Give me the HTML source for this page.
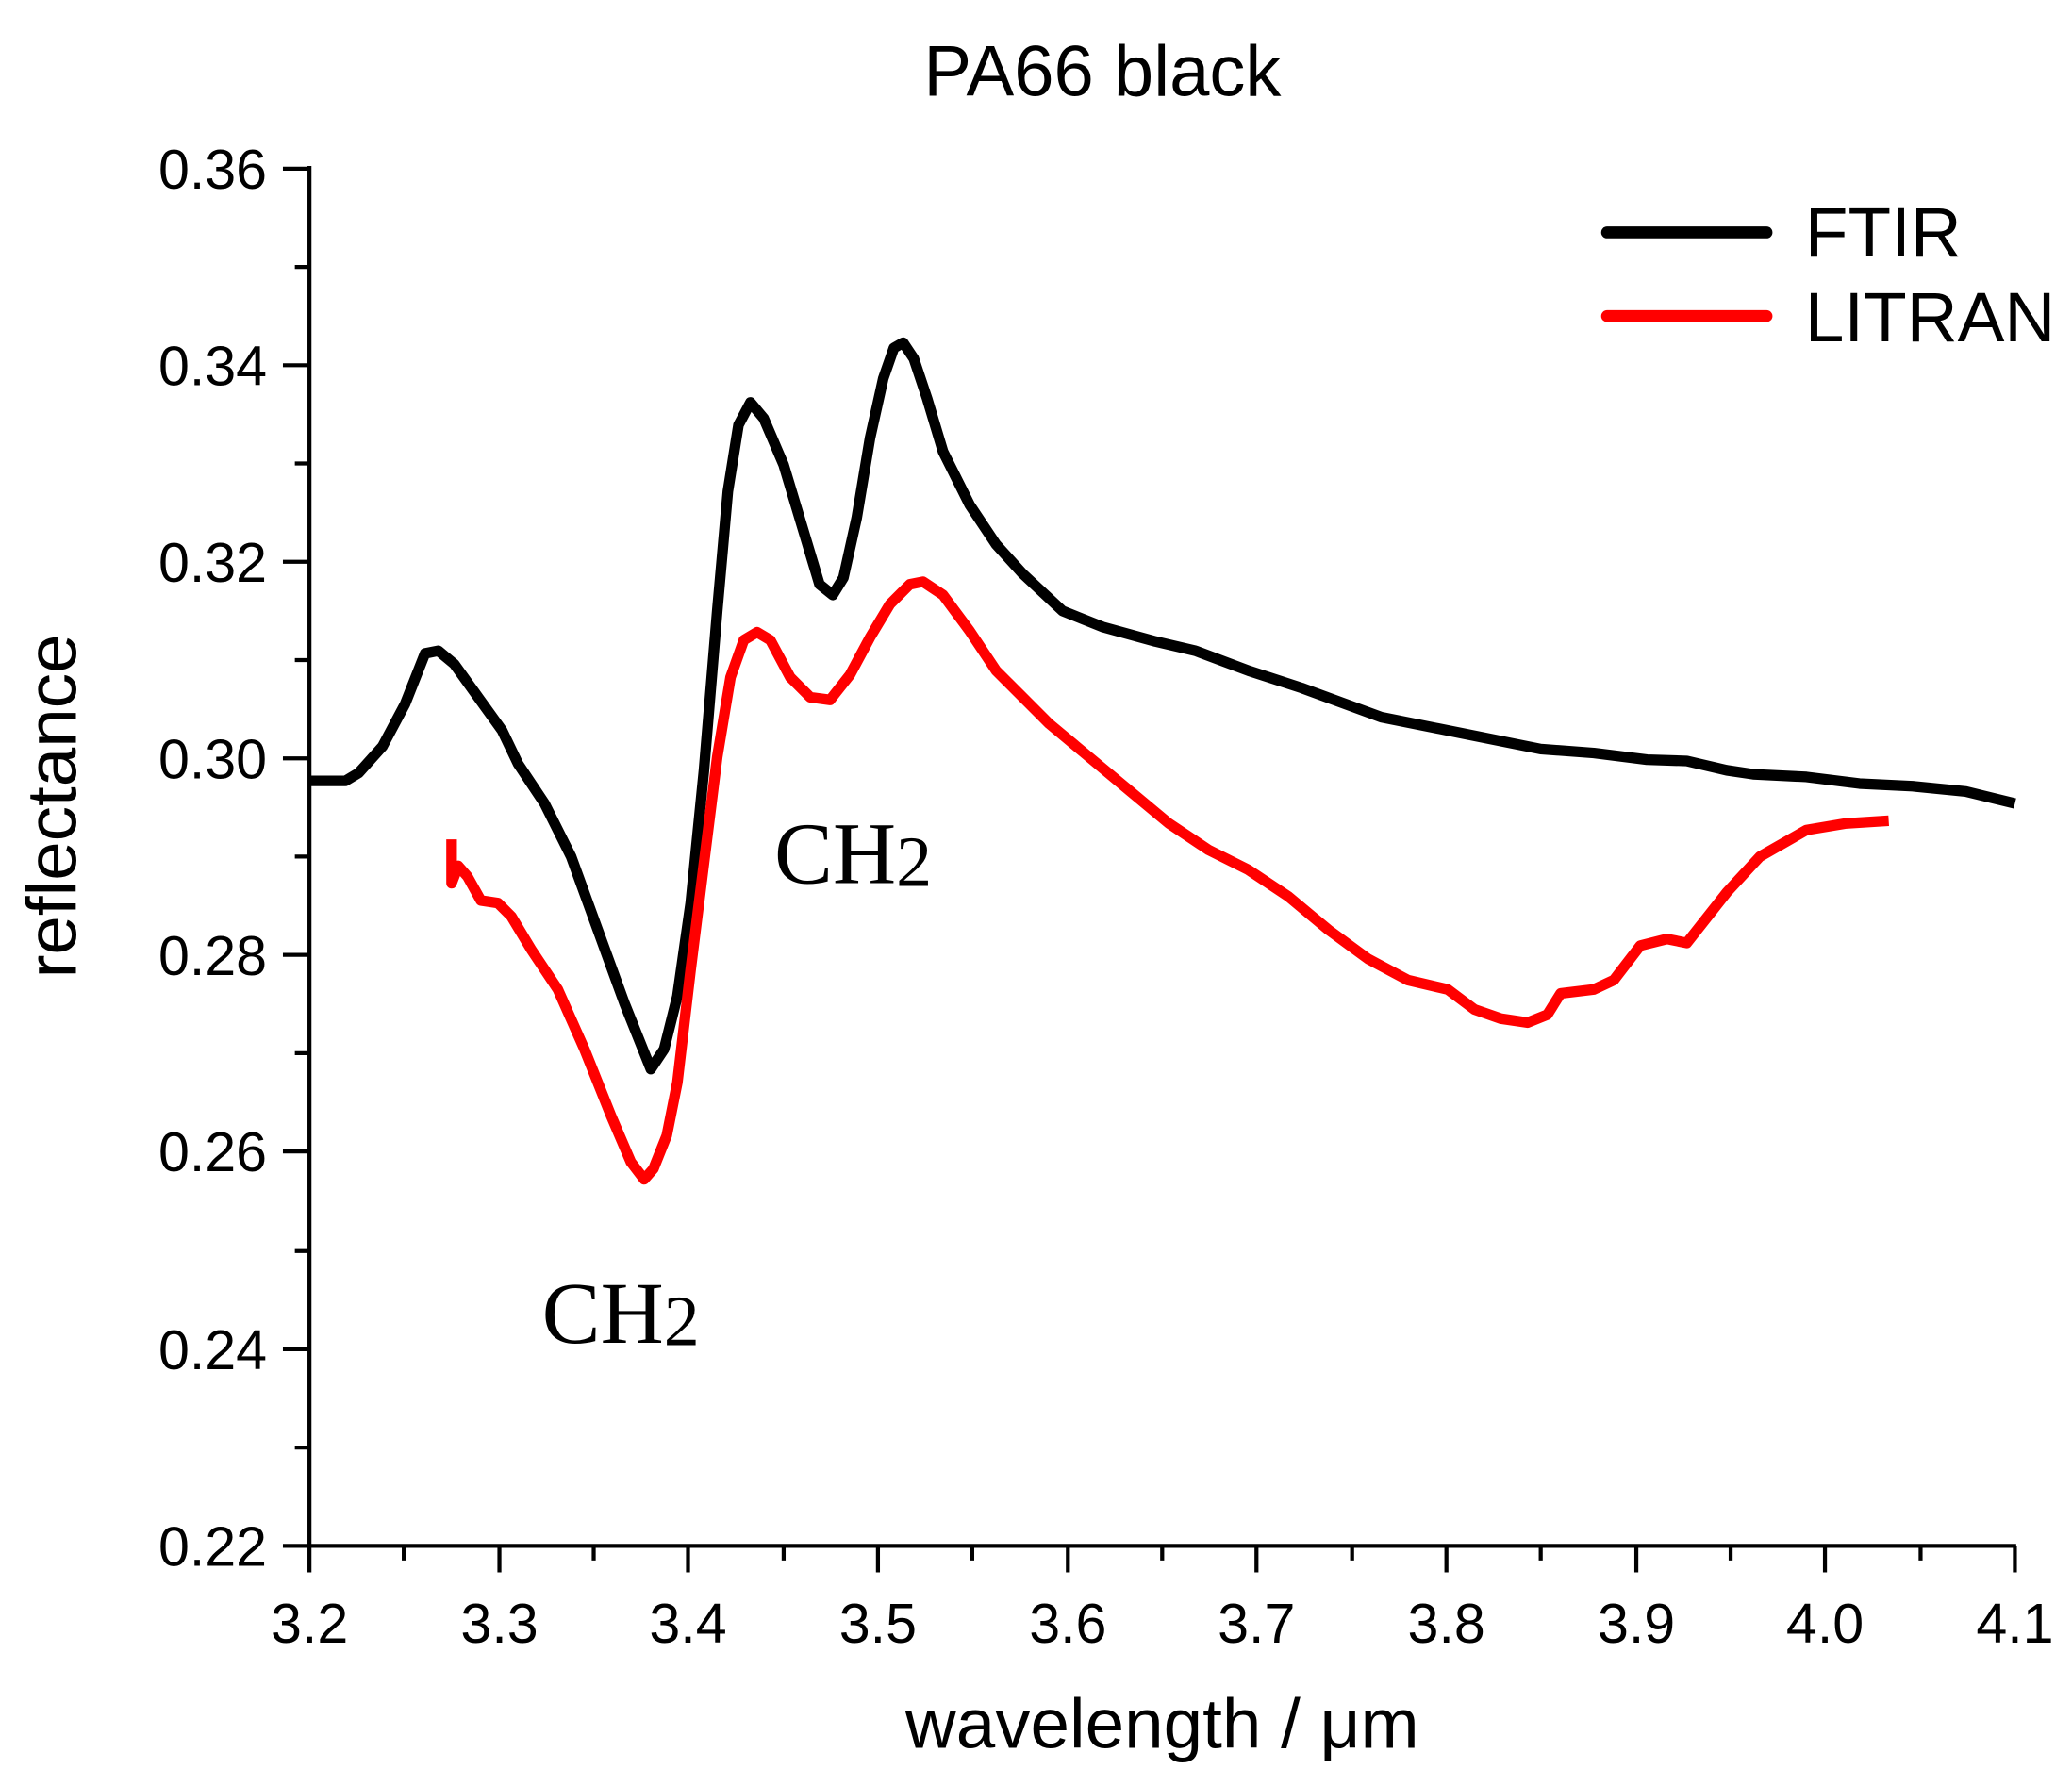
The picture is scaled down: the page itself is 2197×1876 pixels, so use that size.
<!DOCTYPE html>
<html><head><meta charset="utf-8"><style>html,body{margin:0;padding:0;background:#fff}svg{display:block}</style></head><body>
<svg width="2197" height="1876" viewBox="0 0 1560 1332" preserveAspectRatio="none" xmlns="http://www.w3.org/2000/svg" font-family="Liberation Sans, sans-serif">
<rect width="1560" height="1332" fill="#fff"/>
<text x="830" y="72" font-size="54" text-anchor="middle">PA66 black</text>
<g stroke="#000" stroke-width="3" fill="none">
<line x1="233" y1="125" x2="233" y2="1165"/>
<line x1="232" y1="1164" x2="1518" y2="1164"/>
<path d="M213 127H233M213 275H233M213 423H233M213 571H233M213 719H233M213 867H233M213 1016H233M213 1164H233"/>
<path d="M222 201H233M222 349H233M222 497H233M222 645H233M222 793H233M222 942H233M222 1090H233"/>
<path d="M233 1164V1184M376 1164V1184M518 1164V1184M661 1164V1184M804 1164V1184M946 1164V1184M1089 1164V1184M1232 1164V1184M1374 1164V1184M1517 1164V1184"/>
<path d="M304 1164V1175M447 1164V1175M590 1164V1175M732 1164V1175M875 1164V1175M1018 1164V1175M1160 1164V1175M1303 1164V1175M1446 1164V1175"/>
</g>
<g font-size="42" text-anchor="end">
<text x="201" y="142">0.36</text><text x="201" y="290">0.34</text><text x="201" y="438">0.32</text><text x="201" y="586">0.30</text><text x="201" y="734">0.28</text><text x="201" y="882">0.26</text><text x="201" y="1031">0.24</text><text x="201" y="1179">0.22</text>
</g>
<g font-size="42" text-anchor="middle">
<text x="233" y="1237">3.2</text><text x="376" y="1237">3.3</text><text x="518" y="1237">3.4</text><text x="661" y="1237">3.5</text><text x="804" y="1237">3.6</text><text x="946" y="1237">3.7</text><text x="1089" y="1237">3.8</text><text x="1232" y="1237">3.9</text><text x="1374" y="1237">4.0</text><text x="1517" y="1237">4.1</text>
</g>
<text x="875" y="1316" font-size="53" text-anchor="middle">wavelength / μm</text>
<text transform="translate(57,607) rotate(-90)" font-size="53" text-anchor="middle">reflectance</text>
<polyline fill="none" stroke="#000" stroke-width="8" stroke-linejoin="round" points="233,588 260,588 270,582 288,562 305,530 320,492 330,490 342,500 360,525 378,550 390,575 410,605 430,645 450,700 470,755 490,805 500,790 510,750 520,680 530,580 540,460 548,370 556,320 565,303 575,315 590,350 605,400 617,440 627,448 635,435 645,390 655,330 665,285 673,262 680,258 688,270 698,300 710,340 730,380 750,410 770,432 800,460 830,472 870,483 900,490 940,505 980,518 1040,540 1100,552 1160,564 1200,567 1240,572 1270,573 1300,580 1320,583 1360,585 1400,590 1440,592 1480,596 1517,605"/>
<polyline fill="none" stroke="#f00" stroke-width="8" stroke-linejoin="round" points="340,632 340,665 345,652 352,660 362,678 375,680 385,690 400,715 420,745 440,790 460,840 475,875 485,888 492,880 502,855 510,815 520,730 530,650 540,570 550,510 560,482 570,476 580,482 595,510 610,525 625,527 640,508 655,480 670,455 685,440 695,438 710,448 730,475 750,505 770,525 790,545 820,570 850,595 880,620 910,640 940,655 970,675 1000,700 1030,722 1060,738 1090,745 1110,760 1130,767 1150,770 1165,764 1175,748 1200,745 1215,738 1235,712 1255,707 1270,710 1300,672 1325,645 1360,625 1390,620 1422,618"/>
<line x1="1210" y1="175" x2="1330" y2="175" stroke="#000" stroke-width="9" stroke-linecap="round"/>
<line x1="1210" y1="238" x2="1330" y2="238" stroke="#f00" stroke-width="9" stroke-linecap="round"/>
<text x="1359" y="193" font-size="53">FTIR</text>
<text x="1359" y="257" font-size="53">LITRAN</text>
<g font-family="Liberation Serif, serif" font-size="66">
<text x="583" y="665">CH<tspan font-size="54" dy="2">2</tspan></text>
<text x="408" y="1011">CH<tspan font-size="54" dy="2">2</tspan></text>
</g>
</svg>
</body></html>
